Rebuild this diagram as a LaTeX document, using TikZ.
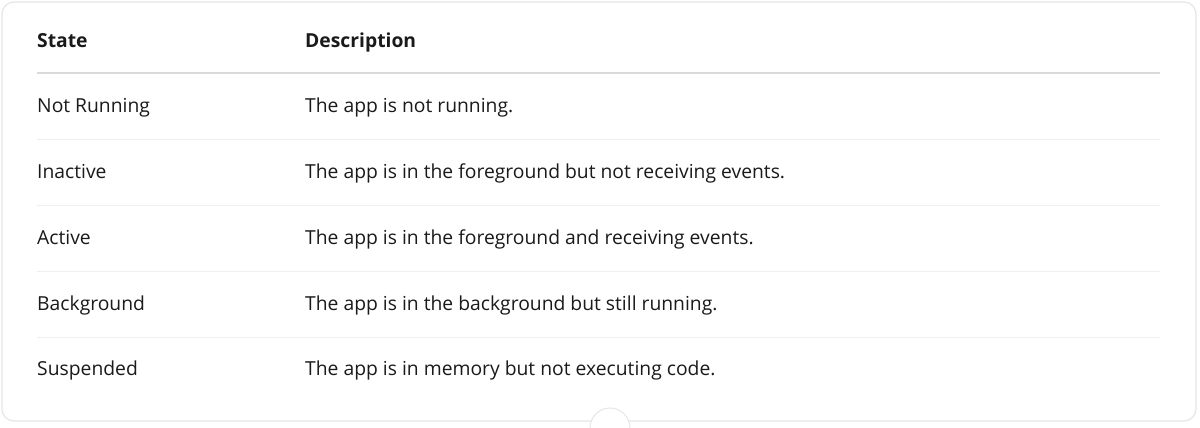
\documentclass[tikz,border=0pt]{standalone}
\usepackage{fontspec}
\setmainfont{Open Sans}
\definecolor{cardline}{HTML}{E6E6E6}
\definecolor{headline}{HTML}{DADADA}
\definecolor{rowline}{HTML}{EFEFEF}
\definecolor{txt}{HTML}{1A1A1A}
\begin{document}
\begin{tikzpicture}[x=1pt,y=-1pt,
  cell/.style={anchor=base west,inner sep=0pt,font=\fontsize{19.3}{22}\selectfont,text=txt},
  head/.style={cell,font=\fontsize{19.3}{22}\selectfont\bfseries}]
\useasboundingbox (0,0) rectangle (1200,428);
\fill[white] (0,0) rectangle (1200,428);
\draw[cardline,line width=1.2,rounded corners=12] (2,2) rectangle (1196,421);
\draw[cardline,fill=white,line width=1] (590,428) arc[start angle=180,end angle=360,radius=20];
\node[head] (h1) at (37,48) {State};
\node[head] (h2) at (305,48) {Description};
\draw[headline,line width=1.6] (37,73) -- (1160,73);
\foreach \y/\a/\b [count=\i] in {106/Not Running/The app is not running.,
  172/Inactive/The app is in the foreground but not receiving events.,
  238/Active/The app is in the foreground and receiving events.,
  304/Background/The app is in the background but still running.,
  369/Suspended/The app is in memory but not executing code.}{
  \node[cell] (s\i) at (37,\y+6) {\a};
  \node[cell] (d\i) at (305,\y+6) {\b};
}
\foreach \y in {139,205,271,337} \draw[rowline,line width=1] (37,\y) -- (1160,\y);
\end{tikzpicture}
\end{document}
